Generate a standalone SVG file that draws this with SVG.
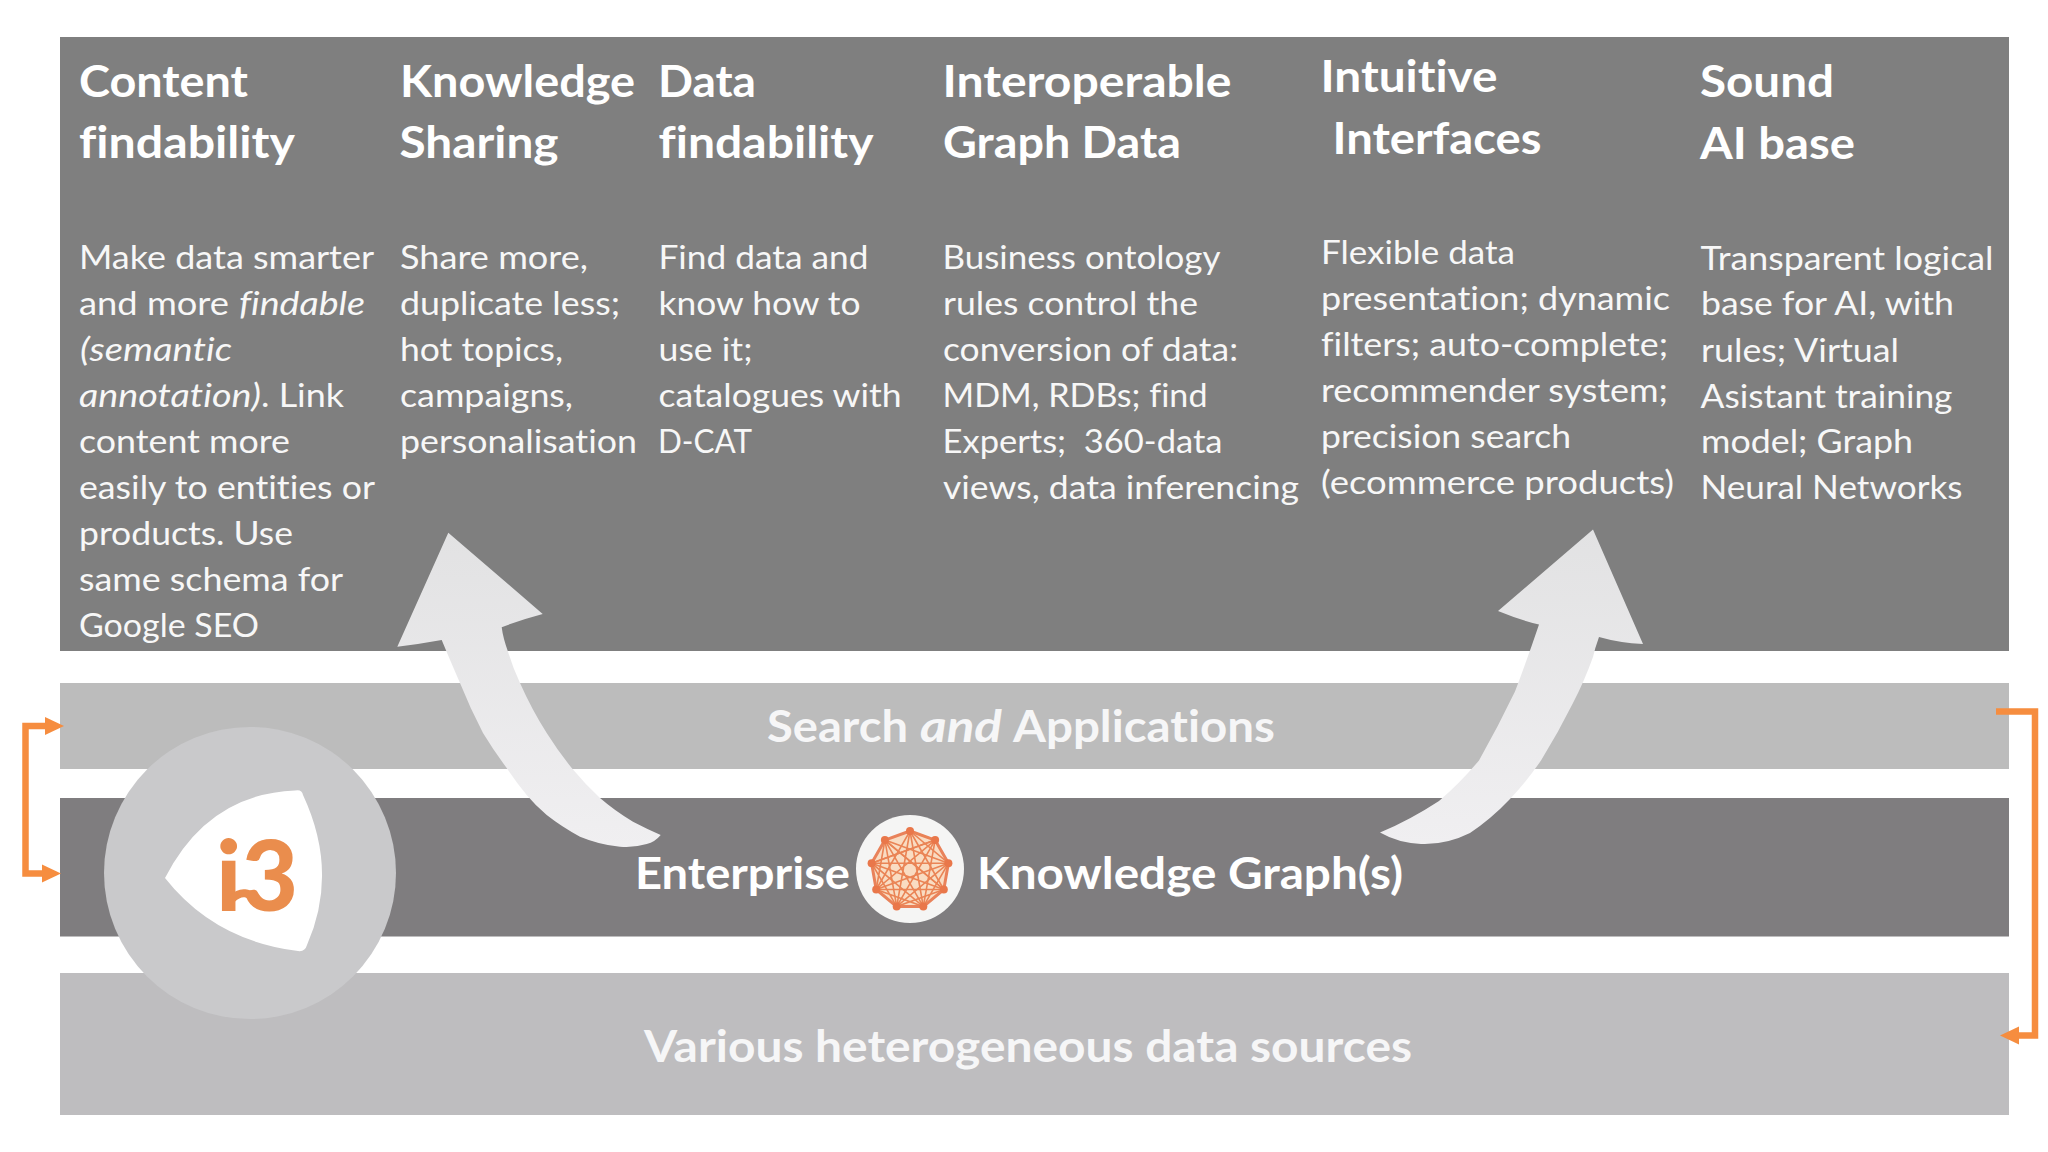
<svg xmlns="http://www.w3.org/2000/svg" width="2048" height="1152" viewBox="0 0 2048 1152">
<style>
text{font-family:"Lato","Open Sans","Liberation Sans",sans-serif;fill:#fff;font-variant-ligatures:none}
.h{font-size:43px;font-weight:700}
.b{font-size:32px;font-weight:400;fill:#f7f7f7}
.l{font-size:44px;font-weight:700;fill:#f6f6f7}
.i{font-style:italic}
.br{fill:none;stroke:#f68d3f;stroke-width:6.5}
</style>
<defs>
<marker id="ah" markerUnits="userSpaceOnUse" markerWidth="20" markerHeight="20" viewBox="0 0 20 20" refX="0" refY="10" orient="auto-start-reverse"><path d="M0,1 L19,10 L0,19 Z" fill="#f68d3f"/></marker>
<linearGradient id="g1" x1="0" y1="0" x2="0" y2="1"><stop offset="0" stop-color="#e2e2e3"/><stop offset="1" stop-color="#f0eff1"/></linearGradient>
</defs>
<rect width="2048" height="1152" fill="#fff"/>
<g id="panel-top"><rect x="60" y="37" width="1949" height="614" fill="#7f7f7f"/></g>
<g id="band-search"><rect x="60" y="683" width="1949" height="86" fill="#bcbcbc"/><text class="l"><tspan x="767" y="741.5" textLength="141" lengthAdjust="spacingAndGlyphs">Search</tspan> <tspan class="i" x="920" y="741.5" textLength="82" lengthAdjust="spacingAndGlyphs">and</tspan> <tspan x="1013" y="741.5" textLength="262" lengthAdjust="spacingAndGlyphs">Applications</tspan></text></g>
<g id="band-kg"><rect x="60" y="798" width="1949" height="138.500" fill="#7f7d7f"/></g>
<g id="band-sources"><rect x="60" y="973" width="1949" height="142" fill="#bebdbf"/><text class="l" x="644" y="1061.500" textLength="768" lengthAdjust="spacingAndGlyphs">Various heterogeneous data sources</text></g>
<g id="connectors">
<path id="arrow-left" fill="url(#g1)" d="M448.300,532.700 L542.700,614 Q520,620 501.700,627.300 Q503,638 508,651.700 Q513,668 520,683 Q532,710 546.700,733 Q558,751 571.700,768 Q585,784 600,798 Q615,811 633,821.700 Q647,829 660.700,835 Q655,842 646.700,844 Q633,848 620,846.700 Q600,845 580,836.700 Q562,827 546.700,815 Q535,805 526.700,795 Q516,782 506.700,768 Q494,751 483,733 Q470,708 460,683 Q450,660 441.700,640 Q420,644 397.300,646.700 Z"/>
<path id="arrow-right" fill="url(#g1)" d="M1593,529.500 L1643,644 Q1620,643 1599,637 Q1595,648 1593,657 Q1584,682 1573,703 Q1558,733 1541,760.500 Q1527,781 1510,799 Q1491,819 1470,833 Q1446,845 1421,844 Q1398,843 1380,832.600 Q1410,820 1439,801 Q1460,783 1479,760.500 Q1498,727 1515,691.600 Q1527,660 1539,624.500 Q1520,620 1498,611 Z"/>
<path class="br" marker-start="url(#ah)" marker-end="url(#ah)" d="M45,726 H25.500 V873.500 H42"/>
<path class="br" marker-end="url(#ah)" d="M1996,711.500 H2035 V1035.500 H2019"/>
</g>
<g id="col-content">
<text class="h" x="79" y="97" textLength="169" lengthAdjust="spacingAndGlyphs">Content</text>
<text class="h" x="79" y="158" textLength="216" lengthAdjust="spacingAndGlyphs">findability</text>
<text class="b" x="79" y="268.500" textLength="295" lengthAdjust="spacingAndGlyphs">Make data smarter</text>
<text class="b"><tspan x="79" y="315" textLength="150" lengthAdjust="spacingAndGlyphs">and more</tspan> <tspan class="i" x="239" y="315" textLength="126" lengthAdjust="spacingAndGlyphs">findable</tspan></text>
<text class="b i" x="80" y="361" textLength="152" lengthAdjust="spacingAndGlyphs">(semantic</text>
<text class="b"><tspan class="i" x="79" y="406.500" textLength="182" lengthAdjust="spacingAndGlyphs">annotation)</tspan><tspan x="261" y="406.500" textLength="83" lengthAdjust="spacingAndGlyphs">. Link</tspan></text>
<text class="b" x="79" y="452.500" textLength="211" lengthAdjust="spacingAndGlyphs">content more</text>
<text class="b" x="79" y="498.500" textLength="296" lengthAdjust="spacingAndGlyphs">easily to entities or</text>
<text class="b" x="79" y="544.500" textLength="214" lengthAdjust="spacingAndGlyphs">products. Use</text>
<text class="b" x="79" y="590.500" textLength="264" lengthAdjust="spacingAndGlyphs">same schema for</text>
<text class="b" x="79" y="636.500" textLength="180" lengthAdjust="spacingAndGlyphs">Google SEO</text>
</g>
<g id="col-sharing">
<text class="h" x="400" y="97" textLength="235" lengthAdjust="spacingAndGlyphs">Knowledge</text>
<text class="h" x="399.500" y="158" textLength="159" lengthAdjust="spacingAndGlyphs">Sharing</text>
<text class="b" x="400" y="268.500" textLength="188" lengthAdjust="spacingAndGlyphs">Share more,</text>
<text class="b" x="400" y="315" textLength="220" lengthAdjust="spacingAndGlyphs">duplicate less;</text>
<text class="b" x="400" y="361" textLength="163" lengthAdjust="spacingAndGlyphs">hot topics,</text>
<text class="b" x="400" y="406.500" textLength="173" lengthAdjust="spacingAndGlyphs">campaigns,</text>
<text class="b" x="400" y="452.500" textLength="237" lengthAdjust="spacingAndGlyphs">personalisation</text>
</g>
<g id="col-data">
<text class="h" x="658" y="97" textLength="98" lengthAdjust="spacingAndGlyphs">Data</text>
<text class="h" x="658.500" y="158" textLength="215" lengthAdjust="spacingAndGlyphs">findability</text>
<text class="b" x="658.500" y="268.500" textLength="210" lengthAdjust="spacingAndGlyphs">Find data and</text>
<text class="b" x="658.500" y="314.500" textLength="202" lengthAdjust="spacingAndGlyphs">know how to</text>
<text class="b" x="658.500" y="360.500" textLength="94" lengthAdjust="spacingAndGlyphs">use it;</text>
<text class="b" x="658.500" y="406.500" textLength="243" lengthAdjust="spacingAndGlyphs">catalogues with</text>
<text class="b" x="658" y="452.500" textLength="94" lengthAdjust="spacingAndGlyphs">D-CAT</text>
</g>
<g id="col-interop">
<text class="h" x="942.500" y="97" textLength="289" lengthAdjust="spacingAndGlyphs">Interoperable</text>
<text class="h" x="943" y="158" textLength="238" lengthAdjust="spacingAndGlyphs">Graph Data</text>
<text class="b" x="942.500" y="268.500" textLength="278" lengthAdjust="spacingAndGlyphs">Business ontology</text>
<text class="b" x="943" y="314.500" textLength="255" lengthAdjust="spacingAndGlyphs">rules control the</text>
<text class="b" x="943" y="360.500" textLength="295" lengthAdjust="spacingAndGlyphs">conversion of data:</text>
<text class="b" x="942.500" y="406.500" textLength="265" lengthAdjust="spacingAndGlyphs">MDM, RDBs; find</text>
<text class="b" x="942.500" y="452.500" textLength="280" lengthAdjust="spacingAndGlyphs" xml:space="preserve">Experts;  360-data</text>
<text class="b" x="943" y="498.500" textLength="356" lengthAdjust="spacingAndGlyphs">views, data inferencing</text>
</g>
<g id="col-interfaces">
<text class="h" x="1320.500" y="92" textLength="177" lengthAdjust="spacingAndGlyphs">Intuitive</text>
<text class="h" x="1332.500" y="154" textLength="209" lengthAdjust="spacingAndGlyphs">Interfaces</text>
<text class="b" x="1321" y="264" textLength="194" lengthAdjust="spacingAndGlyphs">Flexible data</text>
<text class="b" x="1321" y="310" textLength="349" lengthAdjust="spacingAndGlyphs">presentation; dynamic</text>
<text class="b" x="1321" y="356" textLength="347" lengthAdjust="spacingAndGlyphs">filters; auto-complete;</text>
<text class="b" x="1321" y="402" textLength="347" lengthAdjust="spacingAndGlyphs">recommender system;</text>
<text class="b" x="1321" y="448" textLength="250" lengthAdjust="spacingAndGlyphs">precision search</text>
<text class="b" x="1321" y="493.500" textLength="353" lengthAdjust="spacingAndGlyphs">(ecommerce products)</text>
</g>
<g id="col-ai">
<text class="h" x="1700" y="97" textLength="134" lengthAdjust="spacingAndGlyphs">Sound</text>
<text class="h" x="1700" y="159" textLength="155" lengthAdjust="spacingAndGlyphs">AI base</text>
<text class="b" x="1700.500" y="269.500" textLength="293" lengthAdjust="spacingAndGlyphs">Transparent logical</text>
<text class="b" x="1701" y="315" textLength="253" lengthAdjust="spacingAndGlyphs">base for AI, with</text>
<text class="b" x="1701" y="361.500" textLength="198" lengthAdjust="spacingAndGlyphs">rules; Virtual</text>
<text class="b" x="1700.500" y="407.500" textLength="252" lengthAdjust="spacingAndGlyphs">Asistant training</text>
<text class="b" x="1701" y="453" textLength="212" lengthAdjust="spacingAndGlyphs">model; Graph</text>
<text class="b" x="1700.500" y="499" textLength="262" lengthAdjust="spacingAndGlyphs">Neural Networks</text>
</g>
<g id="kg-label">
<text class="l" x="635" y="889" textLength="215" lengthAdjust="spacingAndGlyphs" style="fill:#fff">Enterprise</text>
<text class="l" x="977" y="889" textLength="426" lengthAdjust="spacingAndGlyphs" style="fill:#fff">Knowledge Graph(s)</text>
</g>
<g id="kg-logo">
<circle cx="910" cy="869" r="54" fill="#f5f5f4"/>
<polygon points="910,831 935.100,840.100 948.400,863.200 943.800,889.500 923.300,906.600 896.700,906.600 876.200,889.500 871.600,863.200 884.900,840.100" fill="#f9dcc2" stroke="#e9825a" stroke-width="3" stroke-linejoin="round"/>
<g fill="none" stroke="#ea8455" stroke-width="1.600">
<polygon points="910,831 948.400,863.200 923.300,906.600 876.200,889.500 884.900,840.100 943.800,889.500 896.700,906.600 871.600,863.200 935.100,840.100"/>
<polygon points="910,831 923.300,906.600 884.900,840.100 943.800,889.500 871.600,863.200 948.400,863.200 876.200,889.500 935.100,840.100 896.700,906.600"/>
<polygon points="910,831 943.800,889.500 876.200,889.500"/>
<polygon points="935.100,840.100 923.300,906.600 871.600,863.200"/>
<polygon points="948.400,863.200 896.700,906.600 884.900,840.100"/>
</g>
<g fill="#e9774a"><circle cx="910" cy="831" r="4"/><circle cx="935.100" cy="840.100" r="4"/><circle cx="948.400" cy="863.200" r="4"/><circle cx="943.800" cy="889.500" r="4"/><circle cx="923.300" cy="906.600" r="4"/><circle cx="896.700" cy="906.600" r="4"/><circle cx="876.200" cy="889.500" r="4"/><circle cx="871.600" cy="863.200" r="4"/><circle cx="884.900" cy="840.100" r="4"/></g>
</g>
<g id="i3-logo">
<circle cx="250" cy="873" r="146" fill="#c9c9cb"/>
<path fill="#fff" d="M295,790.500 Q302,789 303,795 Q339,872 307,945 Q305,952 298,951 Q214.500,940.700 165,878 Q208,794 295,790.500 Z"/>
<text x="216" y="911" font-size="98" font-weight="900" textLength="82" lengthAdjust="spacingAndGlyphs" style="fill:#ea8d4d">i3</text>
<path d="M232,899 Q245,886 258,902" fill="none" stroke="#ea8d4d" stroke-width="8"/>
</g>
</svg>
